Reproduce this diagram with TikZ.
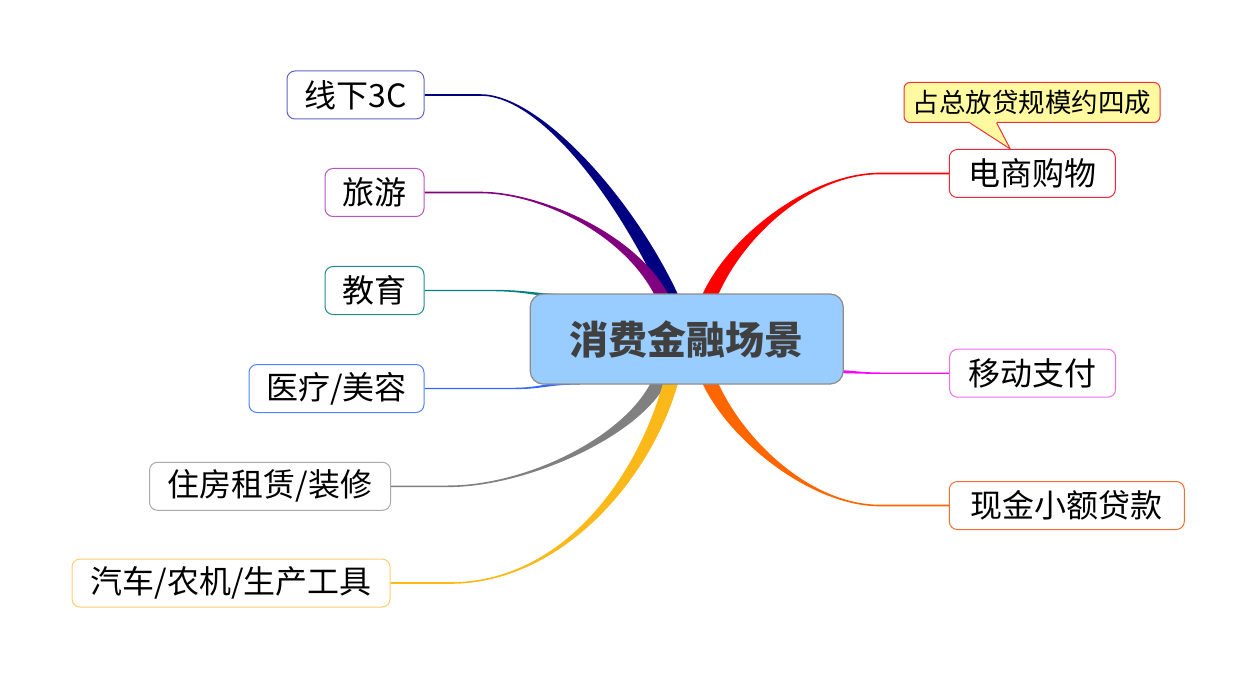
\documentclass[tikz,border=0pt]{standalone}
\usepackage{fontspec}
\newfontfamily\cjk{Noto Sans CJK SC}
\usetikzlibrary{calc}
\pgfdeclarelayer{bg}
\pgfsetlayers{bg,main}
\definecolor{cNavy}{RGB}{0,0,128}
\definecolor{cPurple}{RGB}{128,0,128}
\definecolor{cTeal}{RGB}{0,128,128}
\definecolor{cBlue}{RGB}{51,102,255}
\definecolor{cGray}{RGB}{128,128,128}
\definecolor{cYellow}{RGB}{250,185,25}
\definecolor{cRed}{RGB}{255,0,0}
\definecolor{cMag}{RGB}{255,0,255}
\definecolor{cOrange}{RGB}{255,102,0}
\definecolor{bNavy}{RGB}{100,100,190}
\definecolor{bPurple}{RGB}{185,85,195}
\definecolor{bTeal}{RGB}{30,140,140}
\definecolor{bBlue}{RGB}{80,130,255}
\definecolor{bGray}{RGB}{170,170,170}
\definecolor{bYellow}{RGB}{255,205,110}
\definecolor{bRed}{RGB}{235,40,60}
\definecolor{bMag}{RGB}{240,110,240}
\definecolor{bOrange}{RGB}{240,110,50}
\definecolor{ctrFill}{RGB}{153,204,255}
\definecolor{ctrLine}{RGB}{140,140,140}
\definecolor{ctrText}{RGB}{64,64,64}
\definecolor{callFill}{RGB}{255,250,160}
\definecolor{callLine}{RGB}{240,50,50}
\newcommand\mmbranch[8]{%
  \fill[#1] ($(#2)+(0,-#8)$) -- ($(#2)+(#3)+(0,-#8)$)
    .. controls ($(#2)+(#3)+(#4)+(0,-#8)$) and ($(#5)+(#6)+(#7)$) .. ($(#5)+(#7)$)
    -- ($(#5)-(#7)$)
    .. controls ($(#5)+(#6)-(#7)$) and ($(#2)+(#3)+(#4)+(0,#8)$) .. ($(#2)+(#3)+(0,#8)$)
    -- ($(#2)+(0,#8)$) -- cycle;}
\tikzset{
  leaf/.style={draw, fill=white, rounded corners=8pt, line width=1pt,
    minimum height=48pt, inner sep=0pt, text=black,
    font=\cjk\fontsize{32}{36}\selectfont},
  centre/.style={draw=ctrLine, fill=ctrFill, rounded corners=13pt, line width=1.2pt,
    minimum width=313pt, minimum height=90pt, inner sep=0pt, text=ctrText,
    font=\cjk\bfseries\fontsize{39}{44}\selectfont},
  callout/.style={draw=callLine, fill=callFill, rounded corners=6pt, line width=1pt,
    minimum width=256pt, minimum height=40pt, inner sep=0pt, text=black,
    font=\cjk\fontsize{26.5}{30}\selectfont}
}
\begin{document}
\begin{tikzpicture}[x=1pt,y=-1pt]
\useasboundingbox (0,0) rectangle (1256,679);
% centre
\node[centre] (ctr) at (686.7,339) {消费金融场景};
% left leaves
\node[leaf, draw=bNavy, minimum width=137pt] (n3c) at (355.5,95) {线下3C};
\node[leaf, draw=bPurple, minimum width=99pt] (nly) at (374.5,192.5) {旅游};
\node[leaf, draw=bTeal, minimum width=99pt] (njy) at (374.5,290.5) {教育};
\node[leaf, draw=bBlue, minimum width=175pt] (nyl) at (336.5,388.5) {医疗/美容};
\node[leaf, draw=bGray, minimum width=241pt] (nzf) at (270,486.3) {住房租赁/装修};
\node[leaf, draw=bYellow, minimum width=318pt] (nqc) at (231,583) {汽车/农机/生产工具};
% right leaves
\node[leaf, draw=bRed, minimum width=166pt] (nds) at (1032.3,173.5) {电商购物};
\node[leaf, draw=bMag, minimum width=166pt] (nyd) at (1032.6,373.2) {移动支付};
\node[leaf, draw=bOrange, minimum width=235pt] (nxj) at (1066.8,505.5) {现金小额贷款};
% callout
\node[callout] (call) at (1032,102.5) {占总放贷规模约四成};
\coordinate (tip) at ($(nds.north)+(-22,0)$);
\fill[callFill] ($(call.south)+(-62,-2)$) -- ($(call.south)+(-62,0)$) -- (tip) -- ($(call.south)+(-35.3,0)$) -- ($(call.south)+(-35.3,-2)$) -- cycle;
\draw[callLine, line width=1pt, line join=round] ($(call.south)+(-62,0)$) -- (tip) -- ($(call.south)+(-35.3,0)$);
% branch end points inside the centre box
\coordinate (k3c) at (672,300);
\coordinate (kly) at (664,300);
\coordinate (kjy) at (575,296);
\coordinate (kyl) at (580,383);
\coordinate (kzf) at (661,378);
\coordinate (kqc) at (672,378);
\coordinate (kds) at (708,300);
\coordinate (kyd) at (830,371.5);
\coordinate (kxj) at (708,378);
\begin{pgfonlayer}{bg}
\mmbranch{cNavy}{n3c.east}{56,0}{60,0}{k3c}{-45,-100}{8.5,0}{0.8}
\mmbranch{cPurple}{nly.east}{56,0}{60,0}{kly}{-30,-65}{7,0}{0.8}
\mmbranch{cTeal}{njy.east}{66,0}{40,0}{kjy}{-40,0}{0,-1.6}{0.7}
\mmbranch{cBlue}{nyl.east}{86,0}{35,0}{kyl}{-35,0}{0,-1.6}{0.7}
\mmbranch{cGray}{nzf.east}{57,0}{80,0}{kzf}{-25,57}{-8,0}{0.8}
\mmbranch{cYellow}{nqc.east}{60,0}{110,0}{kqc}{-27,102}{-7.5,0}{0.8}
\mmbranch{cRed}{nds.west}{-69,0}{-70,0}{kds}{25,-62}{-8,0}{0.8}
\mmbranch{cMag}{nyd.west}{-69,0}{-20,0}{kyd}{20,0}{0,-1.6}{0.7}
\mmbranch{cOrange}{nxj.west}{-69,0}{-70,0}{kxj}{25,60}{8,0}{0.8}
\end{pgfonlayer}
\end{tikzpicture}
\end{document}
